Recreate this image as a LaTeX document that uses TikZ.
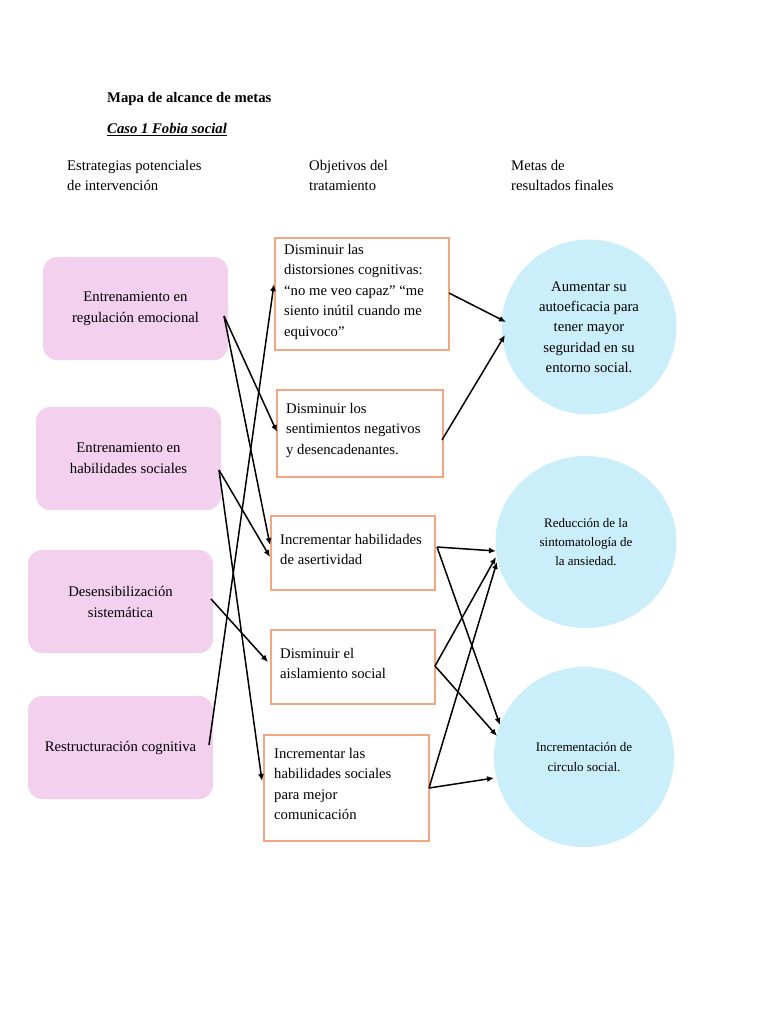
\documentclass[tikz,border=0pt]{standalone}
\usepackage{fontspec}
\setmainfont{Liberation Serif}
\usetikzlibrary{arrows.meta,shapes.geometric}
\definecolor{pinkf}{HTML}{F2D0EE}
\definecolor{orb}{HTML}{F4A582}
\definecolor{bluef}{HTML}{CBEEFB}
\begin{document}
\begin{tikzpicture}[x=1pt,y=-1pt,
  pinkbox/.style={draw=none,fill=pinkf,rounded corners=14pt,align=center,font=\fontsize{14.7}{21}\selectfont},
  goal/.style={ellipse,fill=bluef,align=center,inner sep=0pt},
  arr/.style={-{Latex[length=7pt,width=6pt]},line width=1.5pt},
  lbl/.style={anchor=north west,inner sep=0pt,align=left,font=\fontsize{14.7}{20}\selectfont}]
\useasboundingbox (0,0) rectangle (768,1024);
\fill[white] (0,0) rectangle (768,1024);
\node[lbl,font=\fontsize{14.7}{18}\selectfont\bfseries] (t1) at (107,92) {Mapa de alcance de metas};
\node[lbl,font=\fontsize{14.7}{18}\selectfont\bfseries\itshape] (t2) at (107,123) {\underline{Caso 1 Fobia social}};
\node[lbl] (h1) at (67,160) {Estrategias potenciales\\de intervención};
\node[lbl] (h2) at (309,160) {Objetivos del\\tratamiento};
\node[lbl] (h3) at (511,160) {Metas de\\resultados finales};
% pink
\node[pinkbox,minimum width=185pt,minimum height=103pt] (A1) at (135.5,308.5) {Entrenamiento en\\regulación emocional};
\node[pinkbox,minimum width=185pt,minimum height=103pt] (A2) at (128.5,458.5) {Entrenamiento en\\habilidades sociales};
\node[pinkbox,minimum width=185pt,minimum height=103pt] (A3) at (120.5,601.5) {Desensibilización\\sistemática};
\node[pinkbox,minimum width=185pt,minimum height=103pt] (A4) at (120.5,747.5) {Restructuración cognitiva};
% orange
\draw[orb,line width=1.3pt] (275,238) rectangle (449,350);
\node[lbl,font=\fontsize{14.7}{20.5}\selectfont] (B1) at (284,244) {Disminuir las\\distorsiones cognitivas:\\“no me veo capaz” “me\\siento inútil cuando me\\equivoco”};
\draw[orb,line width=1.3pt] (277,390) rectangle (443,477);
\node[lbl,font=\fontsize{14.7}{20.5}\selectfont] (B2) at (286,403) {Disminuir los\\sentimientos negativos\\y desencadenantes.};
\draw[orb,line width=1.3pt] (271,516) rectangle (435,590);
\node[lbl,font=\fontsize{14.7}{20.5}\selectfont] (B3) at (280,534) {Incrementar habilidades\\de asertividad};
\draw[orb,line width=1.3pt] (271,630) rectangle (435,704);
\node[lbl,font=\fontsize{14.7}{20.5}\selectfont] (B4) at (280,648) {Disminuir el\\aislamiento social};
\draw[orb,line width=1.3pt] (264,735) rectangle (429,841);
\node[lbl,font=\fontsize{14.7}{20.5}\selectfont] (B5) at (274,748) {Incrementar las\\habilidades sociales\\para mejor\\comunicación};
% circles
\node[goal,minimum width=175pt,minimum height=175pt,font=\fontsize{14.7}{20.3}\selectfont] (C1) at (589,327) {Aumentar su\\autoeficacia para\\tener mayor\\seguridad en su\\entorno social.};
\node[goal,minimum width=181pt,minimum height=172pt,font=\fontsize{13}{19}\selectfont] (C2) at (586,542) {Reducción de la\\sintomatología de\\la ansiedad.};
\node[goal,minimum width=180pt,minimum height=180pt,font=\fontsize{13}{20}\selectfont] (C3) at (584,757) {Incrementación de\\circulo social.};
% coordinates
\coordinate (a1) at (224,316); \coordinate (a2) at (219,470);
\coordinate (a3) at (211,599); \coordinate (a4) at (209,745);
\coordinate (b1i) at (274,284); \coordinate (b2i) at (277,432);
\coordinate (b3i) at (270,545); \coordinate (b3j) at (270,557);
\coordinate (b4i) at (268,662); \coordinate (b5i) at (262,781);
\coordinate (b1o) at (449,293); \coordinate (b2o) at (442,440);
\coordinate (b3o) at (437,547); \coordinate (b4o) at (435,666);
\coordinate (b5o) at (429,788);
\coordinate (c1i) at (506,322); \coordinate (c1j) at (505,335);
\coordinate (c2i) at (496,551); \coordinate (c2j) at (496,557); \coordinate (c2k) at (497,562);
\coordinate (c3i) at (500,725); \coordinate (c3j) at (497,736); \coordinate (c3k) at (494,778);
\draw[arr] (a1) -- (b2i); \draw[arr] (a1) -- (b3i);
\draw[arr] (a2) -- (b3j); \draw[arr] (a2) -- (b5i);
\draw[arr] (a3) -- (b4i); \draw[arr] (a4) -- (b1i);
\draw[arr] (b1o) -- (c1i); \draw[arr] (b2o) -- (c1j);
\draw[arr] (b3o) -- (c2i); \draw[arr] (b3o) -- (c3i);
\draw[arr] (b4o) -- (c2j); \draw[arr] (b4o) -- (c3j);
\draw[arr] (b5o) -- (c2k); \draw[arr] (b5o) -- (c3k);
\end{tikzpicture}
\end{document}
